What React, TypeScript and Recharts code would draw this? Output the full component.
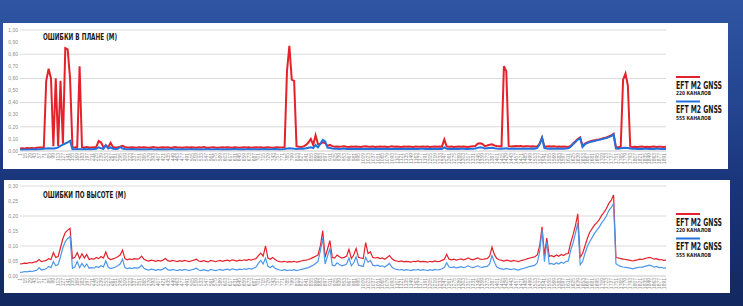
import { LineChart, Line, XAxis, YAxis, CartesianGrid } from 'recharts'

// one point every 7 samples, starting at sample 1
const SAMPLE_START = 1
const SAMPLE_STEP = 7

const PLAN_TICKS = [0, 0.1, 0.2, 0.3, 0.4, 0.5, 0.6, 0.7, 0.8, 0.9, 1]
const HEIGHT_TICKS = [0, 0.05, 0.1, 0.15, 0.2, 0.25, 0.3]

const SERIES_NAMES = ['220 КАНАЛОВ', '555 КАНАЛОВ']

// plan errors, 220 channels
const planRed = [
  0.020, 0.022, 0.021, 0.024, 0.022, 0.025, 0.023, 0.026, 0.028, 0.030,
  0.032, 0.58, 0.68, 0.60, 0.040, 0.60, 0.042, 0.58, 0.060, 0.85,
  0.84, 0.60, 0.032, 0.030, 0.034, 0.70, 0.032, 0.030, 0.033, 0.030,
  0.028, 0.031, 0.034, 0.082, 0.070, 0.032, 0.045, 0.030, 0.068, 0.034,
  0.030, 0.032, 0.036, 0.042, 0.033, 0.030, 0.028, 0.031, 0.029, 0.027,
  0.030, 0.028, 0.031, 0.029, 0.027, 0.030, 0.032, 0.028, 0.026, 0.029,
  0.031, 0.028, 0.030, 0.027, 0.029, 0.032, 0.030, 0.028, 0.026, 0.029,
  0.030, 0.028, 0.031, 0.029, 0.027, 0.030, 0.028, 0.032, 0.029, 0.027,
  0.029, 0.031, 0.028, 0.026, 0.029, 0.030, 0.028, 0.031, 0.029, 0.027,
  0.030, 0.028, 0.026, 0.029, 0.031, 0.028, 0.030, 0.027, 0.029, 0.031,
  0.028, 0.030, 0.027, 0.029, 0.031, 0.028, 0.026, 0.029, 0.030, 0.028,
  0.030, 0.032, 0.66, 0.87, 0.59, 0.58, 0.040, 0.035, 0.034, 0.038,
  0.050, 0.070, 0.100, 0.050, 0.130, 0.058, 0.060, 0.072, 0.065, 0.042,
  0.050, 0.040, 0.036, 0.038, 0.035, 0.037, 0.040, 0.036, 0.034, 0.037,
  0.035, 0.038, 0.036, 0.034, 0.037, 0.039, 0.035, 0.036, 0.038, 0.034,
  0.036, 0.038, 0.035, 0.037, 0.034, 0.036, 0.039, 0.035, 0.037, 0.036,
  0.034, 0.037, 0.035, 0.038, 0.036, 0.034, 0.037, 0.035, 0.036, 0.038,
  0.035, 0.037, 0.034, 0.036, 0.038, 0.035, 0.037, 0.036, 0.096, 0.036,
  0.035, 0.037, 0.034, 0.036, 0.038, 0.035, 0.037, 0.036, 0.034, 0.038,
  0.040, 0.042, 0.060, 0.064, 0.058, 0.040, 0.045, 0.052, 0.055, 0.046,
  0.042, 0.040, 0.038, 0.70, 0.66, 0.040, 0.038, 0.040, 0.042, 0.039,
  0.041, 0.038, 0.040, 0.039, 0.037, 0.040, 0.038, 0.036, 0.062, 0.112,
  0.036, 0.038, 0.040, 0.037, 0.039, 0.036, 0.038, 0.035, 0.037, 0.036,
  0.034, 0.042, 0.062, 0.080, 0.098, 0.112, 0.040, 0.062, 0.071, 0.078,
  0.084, 0.088, 0.093, 0.096, 0.101, 0.107, 0.112, 0.120, 0.128, 0.142,
  0.034, 0.032, 0.035, 0.59, 0.64, 0.54, 0.036, 0.034, 0.036, 0.033,
  0.035, 0.037, 0.034, 0.036, 0.033, 0.035, 0.037, 0.034, 0.036, 0.035,
  0.034, 0.036,
]

// plan errors, 555 channels
const planBlue = [
  0.010, 0.011, 0.012, 0.011, 0.013, 0.012, 0.014, 0.013, 0.015, 0.016,
  0.018, 0.020, 0.022, 0.021, 0.020, 0.022, 0.030, 0.042, 0.052, 0.062,
  0.072, 0.085, 0.015, 0.014, 0.016, 0.015, 0.014, 0.016, 0.015, 0.017,
  0.015, 0.016, 0.018, 0.030, 0.022, 0.018, 0.048, 0.020, 0.030, 0.018,
  0.016, 0.018, 0.034, 0.020, 0.017, 0.015, 0.014, 0.016, 0.015, 0.013,
  0.014, 0.013, 0.015, 0.012, 0.014, 0.016, 0.013, 0.012, 0.014, 0.013,
  0.015, 0.013, 0.012, 0.014, 0.016, 0.013, 0.015, 0.012, 0.014, 0.013,
  0.012, 0.014, 0.016, 0.013, 0.015, 0.012, 0.014, 0.013, 0.015, 0.016,
  0.013, 0.012, 0.014, 0.016, 0.013, 0.015, 0.012, 0.014, 0.013, 0.015,
  0.016, 0.014, 0.012, 0.015, 0.013, 0.014, 0.016, 0.013, 0.015, 0.014,
  0.013, 0.015, 0.014, 0.016, 0.013, 0.015, 0.014, 0.016, 0.015, 0.013,
  0.014, 0.016, 0.020, 0.022, 0.020, 0.018, 0.016, 0.018, 0.020, 0.019,
  0.022, 0.026, 0.030, 0.024, 0.050, 0.030, 0.060, 0.092, 0.080, 0.028,
  0.024, 0.020, 0.018, 0.019, 0.017, 0.018, 0.020, 0.017, 0.016, 0.018,
  0.017, 0.019, 0.016, 0.018, 0.017, 0.019, 0.016, 0.018, 0.017, 0.016,
  0.018, 0.017, 0.019, 0.016, 0.018, 0.017, 0.016, 0.019, 0.017, 0.018,
  0.016, 0.018, 0.017, 0.019, 0.016, 0.018, 0.017, 0.016, 0.018, 0.019,
  0.017, 0.016, 0.018, 0.017, 0.019, 0.016, 0.018, 0.017, 0.030, 0.018,
  0.017, 0.019, 0.016, 0.018, 0.017, 0.019, 0.018, 0.016, 0.017, 0.018,
  0.018, 0.020, 0.026, 0.030, 0.028, 0.020, 0.022, 0.024, 0.026, 0.022,
  0.020, 0.019, 0.018, 0.020, 0.022, 0.019, 0.018, 0.020, 0.019, 0.018,
  0.019, 0.018, 0.020, 0.019, 0.018, 0.020, 0.019, 0.026, 0.058, 0.108,
  0.024, 0.020, 0.019, 0.020, 0.018, 0.019, 0.020, 0.018, 0.019, 0.020,
  0.022, 0.036, 0.056, 0.075, 0.094, 0.106, 0.034, 0.056, 0.066, 0.073,
  0.079, 0.083, 0.088, 0.092, 0.097, 0.102, 0.108, 0.115, 0.123, 0.136,
  0.020, 0.018, 0.022, 0.024, 0.026, 0.024, 0.020, 0.018, 0.019, 0.017,
  0.018, 0.017, 0.019, 0.018, 0.016, 0.018, 0.017, 0.019, 0.018, 0.017,
  0.018, 0.017,
]

// height errors, 220 channels
const heightRed = [
  0.040, 0.041, 0.043, 0.042, 0.045, 0.044, 0.046, 0.048, 0.055, 0.048,
  0.050, 0.052, 0.058, 0.055, 0.078, 0.062, 0.065, 0.095, 0.125, 0.145,
  0.153, 0.159, 0.058, 0.062, 0.078, 0.058, 0.074, 0.060, 0.072, 0.055,
  0.058, 0.056, 0.062, 0.058, 0.065, 0.060, 0.080, 0.060, 0.055, 0.057,
  0.060, 0.064, 0.070, 0.086, 0.058, 0.054, 0.057, 0.055, 0.058, 0.056,
  0.058, 0.066, 0.056, 0.052, 0.050, 0.053, 0.051, 0.049, 0.052, 0.050,
  0.053, 0.058, 0.051, 0.049, 0.052, 0.050, 0.048, 0.051, 0.049, 0.052,
  0.050, 0.048, 0.051, 0.053, 0.056, 0.050, 0.048, 0.051, 0.049, 0.047,
  0.052, 0.050, 0.048, 0.050, 0.052, 0.049, 0.051, 0.053, 0.050, 0.054,
  0.052, 0.050, 0.053, 0.051, 0.054, 0.052, 0.055, 0.053, 0.056, 0.058,
  0.068, 0.076, 0.066, 0.100, 0.060, 0.056, 0.062, 0.055, 0.050, 0.048,
  0.047, 0.049, 0.046, 0.048, 0.047, 0.049, 0.046, 0.048, 0.050, 0.052,
  0.053, 0.055, 0.058, 0.062, 0.066, 0.070, 0.100, 0.151, 0.062, 0.090,
  0.118, 0.062, 0.060, 0.070, 0.064, 0.060, 0.062, 0.066, 0.089, 0.058,
  0.070, 0.092, 0.062, 0.060, 0.058, 0.111, 0.075, 0.080, 0.062, 0.060,
  0.062, 0.058, 0.060, 0.056, 0.062, 0.068, 0.058, 0.052, 0.050, 0.048,
  0.050, 0.047, 0.049, 0.048, 0.046, 0.049, 0.048, 0.050, 0.047, 0.049,
  0.048, 0.046, 0.049, 0.047, 0.050, 0.048, 0.049, 0.052, 0.056, 0.072,
  0.056, 0.054, 0.056, 0.053, 0.055, 0.057, 0.054, 0.056, 0.060, 0.056,
  0.054, 0.057, 0.060, 0.056, 0.055, 0.057, 0.058, 0.066, 0.096, 0.072,
  0.058, 0.054, 0.052, 0.050, 0.053, 0.051, 0.049, 0.052, 0.050, 0.048,
  0.051, 0.053, 0.055, 0.058, 0.060, 0.062, 0.064, 0.070, 0.100, 0.164,
  0.070, 0.126, 0.066, 0.068, 0.064, 0.070, 0.066, 0.072, 0.068, 0.074,
  0.075, 0.110, 0.137, 0.168, 0.207, 0.062, 0.075, 0.100, 0.125, 0.146,
  0.158, 0.170, 0.178, 0.188, 0.202, 0.212, 0.225, 0.242, 0.252, 0.270,
  0.062, 0.060, 0.058, 0.056, 0.055, 0.054, 0.052, 0.050, 0.052, 0.054,
  0.056, 0.055, 0.058, 0.060, 0.062, 0.060, 0.056, 0.058, 0.054, 0.055,
  0.052, 0.053,
]

// height errors, 555 channels
const heightBlue = [
  0.012, 0.013, 0.015, 0.014, 0.016, 0.015, 0.017, 0.019, 0.028, 0.020,
  0.022, 0.024, 0.032, 0.028, 0.048, 0.034, 0.038, 0.065, 0.095, 0.115,
  0.125, 0.131, 0.026, 0.030, 0.048, 0.028, 0.042, 0.030, 0.040, 0.026,
  0.028, 0.026, 0.032, 0.028, 0.034, 0.030, 0.050, 0.030, 0.025, 0.027,
  0.030, 0.034, 0.040, 0.056, 0.028, 0.025, 0.027, 0.025, 0.028, 0.026,
  0.028, 0.036, 0.026, 0.022, 0.020, 0.023, 0.021, 0.019, 0.022, 0.020,
  0.023, 0.028, 0.021, 0.019, 0.022, 0.020, 0.018, 0.021, 0.019, 0.022,
  0.020, 0.018, 0.021, 0.023, 0.026, 0.020, 0.018, 0.021, 0.019, 0.017,
  0.022, 0.020, 0.018, 0.020, 0.022, 0.019, 0.021, 0.023, 0.020, 0.024,
  0.022, 0.020, 0.023, 0.021, 0.024, 0.022, 0.025, 0.023, 0.026, 0.030,
  0.042, 0.052, 0.040, 0.060, 0.032, 0.028, 0.034, 0.026, 0.022, 0.020,
  0.019, 0.021, 0.018, 0.020, 0.019, 0.021, 0.018, 0.020, 0.022, 0.024,
  0.026, 0.028, 0.032, 0.036, 0.042, 0.048, 0.085, 0.126, 0.040, 0.066,
  0.092, 0.036, 0.034, 0.044, 0.038, 0.034, 0.036, 0.040, 0.060, 0.034,
  0.044, 0.064, 0.036, 0.034, 0.032, 0.062, 0.046, 0.052, 0.036, 0.034,
  0.036, 0.032, 0.034, 0.030, 0.036, 0.042, 0.030, 0.024, 0.022, 0.020,
  0.022, 0.019, 0.021, 0.020, 0.018, 0.021, 0.020, 0.022, 0.019, 0.021,
  0.020, 0.018, 0.021, 0.019, 0.022, 0.020, 0.021, 0.024, 0.028, 0.044,
  0.030, 0.028, 0.030, 0.027, 0.029, 0.031, 0.028, 0.030, 0.034, 0.030,
  0.028, 0.031, 0.034, 0.030, 0.029, 0.031, 0.032, 0.040, 0.068, 0.046,
  0.030, 0.026, 0.024, 0.022, 0.025, 0.023, 0.021, 0.024, 0.022, 0.020,
  0.023, 0.025, 0.027, 0.030, 0.032, 0.034, 0.036, 0.044, 0.080, 0.153,
  0.048, 0.114, 0.040, 0.042, 0.038, 0.044, 0.040, 0.046, 0.042, 0.048,
  0.050, 0.085, 0.110, 0.142, 0.176, 0.037, 0.048, 0.075, 0.098, 0.114,
  0.128, 0.142, 0.153, 0.163, 0.177, 0.187, 0.200, 0.218, 0.228, 0.242,
  0.041, 0.036, 0.032, 0.030, 0.029, 0.028, 0.026, 0.024, 0.026, 0.028,
  0.030, 0.029, 0.032, 0.034, 0.036, 0.034, 0.030, 0.032, 0.028, 0.029,
  0.026, 0.027,
]

const RED = '#e4222c'
const BLUE = '#2470dc'
const LIGHT_BLUE = '#4d97ea'
const GRID = '#dadada'
const LABEL = '#8c8c8c'

const planData = planRed.map((v, i) => ({
  sample: SAMPLE_START + i * SAMPLE_STEP,
  red: v,
  blue: planBlue[i],
}))

const heightData = heightRed.map((v, i) => ({
  sample: SAMPLE_START + i * SAMPLE_STEP,
  red: v,
  blue: heightBlue[i],
}))

const fmt = (v: number) => v.toFixed(2).replace('.', ',')

const labelFont = "'Liberation Sans', Arial, sans-serif"
const narrow = "'Liberation Sans Narrow', 'DejaVu Sans Condensed', sans-serif"

function SampleTick({ x, y, payload }: any) {
  return (
    <text
      x={x}
      y={y}
      transform={`rotate(-90 ${x} ${y})`}
      textAnchor="end"
      dominantBaseline="central"
      fontSize={5}
      fill={LABEL}
      fontFamily={labelFont}
    >
      {payload.value}
    </text>
  )
}

// squeezed bold label, like the condensed font on the slide
function Squeezed({ x, y, size, width, children }: { x: number; y: number; size: number; width: number; children: string }) {
  const sx = 0.8
  return (
    <g transform={`translate(${x} ${y}) scale(${sx} 1)`}>
      <text x={0} y={0} fontSize={size} fontWeight="bold" fontFamily={narrow} fill="#1a1a1a" textLength={width / sx} lengthAdjust="spacingAndGlyphs">
        {children}
      </text>
    </g>
  )
}

function Legend({ top }: { top: number }) {
  return (
    <g>
      <line x1={676} x2={700} y1={top} y2={top} stroke={RED} strokeWidth={2} />
      <Squeezed x={676} y={top + 12} size={10.5} width={46}>EFT M2 GNSS</Squeezed>
      <Squeezed x={676} y={top + 18.4} size={5.5} width={35}>{SERIES_NAMES[0]}</Squeezed>
      <line x1={676} x2={700} y1={top + 24.5} y2={top + 24.5} stroke={BLUE} strokeWidth={2} />
      <Squeezed x={676} y={top + 36} size={10.5} width={46}>EFT M2 GNSS</Squeezed>
      <Squeezed x={676} y={top + 42.6} size={5.5} width={35}>{SERIES_NAMES[1]}</Squeezed>
    </g>
  )
}

export default function App() {
  return (
    <div
      style={{
        position: 'relative',
        width: 743,
        height: 306,
        overflow: 'hidden',
        background: 'linear-gradient(180deg, #2f55a3 0%, #22428c 40%, #1a357a 60%, #12285f 100%)',
      }}
    >
      <style>{'body{margin:0}'}</style>

      <div style={{ position: 'absolute', left: 3, top: 23, width: 725, height: 146, background: '#fff' }} />
      <div style={{ position: 'absolute', left: 4, top: 180, width: 726, height: 113, background: '#fff' }} />

      <div style={{ position: 'absolute', left: 0, top: 0 }}>
        <LineChart width={743} height={170} data={planData} margin={{ top: 30, right: 77, bottom: 0, left: 4 }}>
          <CartesianGrid vertical={false} stroke={GRID} />
          <XAxis
            dataKey="sample"
            interval={1}
            tick={<SampleTick />}
            tickLine={false}
            tickSize={0}
            tickMargin={2}
            height={19}
            axisLine={{ stroke: GRID }}
          />
          <YAxis
            domain={[0, 1]}
            ticks={PLAN_TICKS}
            tickFormatter={fmt}
            width={16}
            axisLine={false}
            tickLine={false}
            tickSize={0}
            tickMargin={2}
            tick={{ fontSize: 5, fill: LABEL, fontFamily: labelFont }}
          />
          <Line dataKey="red" stroke={RED} strokeWidth={2} dot={false} isAnimationActive={false} />
          <Line dataKey="blue" stroke={BLUE} strokeWidth={2} dot={false} isAnimationActive={false} />
        </LineChart>
      </div>

      <div style={{ position: 'absolute', left: 0, top: 170 }}>
        <LineChart width={743} height={124} data={heightData} margin={{ top: 16, right: 77, bottom: 0, left: 4 }}>
          <CartesianGrid vertical={false} stroke={GRID} />
          <XAxis
            dataKey="sample"
            interval={1}
            tick={<SampleTick />}
            tickLine={false}
            tickSize={0}
            tickMargin={2}
            height={18}
            axisLine={{ stroke: GRID }}
          />
          <YAxis
            domain={[0, 0.3]}
            ticks={HEIGHT_TICKS}
            tickFormatter={fmt}
            width={16}
            axisLine={false}
            tickLine={false}
            tickSize={0}
            tickMargin={2}
            tick={{ fontSize: 5, fill: LABEL, fontFamily: labelFont }}
          />
          <Line dataKey="red" stroke={RED} strokeWidth={1.2} dot={false} isAnimationActive={false} />
          <Line dataKey="blue" stroke={LIGHT_BLUE} strokeWidth={1.2} dot={false} isAnimationActive={false} />
        </LineChart>
      </div>

      <svg width={743} height={306} style={{ position: 'absolute', left: 0, top: 0, pointerEvents: 'none' }}>
        <Squeezed x={43} y={39.5} size={9.5} width={74}>ОШИБКИ В ПЛАНЕ  (М)</Squeezed>
        <Squeezed x={43} y={197.5} size={9.5} width={83}>ОШИБКИ ПО ВЫСОТЕ  (М)</Squeezed>
        <Legend top={77} />
        <Legend top={214} />
      </svg>
    </div>
  )
}
